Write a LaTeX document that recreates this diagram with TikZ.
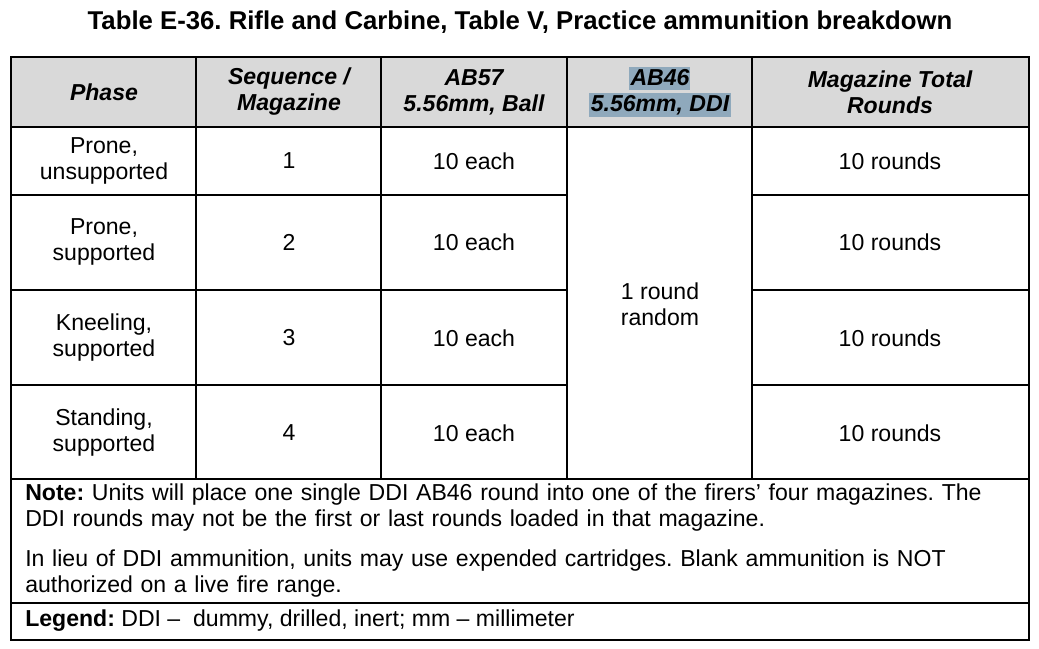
\documentclass[tikz,border=0pt]{standalone}
\usepackage{fontspec}
\setmainfont{Liberation Sans}
\frenchspacing
\definecolor{hdr}{HTML}{D9D9D9}
\definecolor{hl}{HTML}{8FA9BC}
\begin{document}
\begin{tikzpicture}[x=0.75pt,y=-0.75pt,
  cell/.style={align=center,font=\fontsize{17.3}{19.5}\selectfont,inner sep=0pt},
  hcell/.style={cell,font=\fontsize{17.3}{19.5}\selectfont\bfseries\itshape},
  grid/.style={line width=1.6pt}]
\useasboundingbox (0,0) rectangle (1039,649);
\node[font=\fontsize{19.3}{22}\selectfont\bfseries] (title) at (520,22) {Table E-36. Rifle and Carbine, Table V, Practice ammunition breakdown};
\fill[hdr] (11,57) rectangle (1029,127);
\fill[hl] (629,67) rectangle (690,90);
\fill[hl] (589,93) rectangle (731,117);
% grid
\draw[grid] (11,57) rectangle (1029,640);
\draw[grid] (11,127) -- (1029,127);
\foreach \y in {195,290,385} {\draw[grid] (11,\y) -- (567,\y); \draw[grid] (752,\y) -- (1029,\y);}
\draw[grid] (11,479) -- (1029,479);
\draw[grid] (11,603) -- (1029,603);
\foreach \x in {196,381,567,752} \draw[grid] (\x,57) -- (\x,479);
% header
\node[hcell] (h1) at (104,92) {Phase};
\node[hcell] (h2) at (289,92) {Sequence /\\Magazine};
\node[hcell] (h3) at (474,92) {AB57\\5.56mm, Ball};
\node[hcell] (h4) at (660,92) {AB46\\5.56mm, DDI};
\node[hcell] (h5) at (890,92) {Magazine Total\\Rounds};
% rows
\node[cell] (p1) at (104,161) {Prone,\\unsupported};
\node[cell] (p2) at (104,242) {Prone,\\supported};
\node[cell] (p3) at (104,338) {Kneeling,\\supported};
\node[cell] (p4) at (104,433) {Standing,\\supported};
\node[cell] (s1) at (289,161) {1};
\node[cell] (s2) at (289,242) {2};
\node[cell] (s3) at (289,338) {3};
\node[cell] (s4) at (289,433) {4};
\node[cell] (b1) at (474,161) {10 each};
\node[cell] (b2) at (474,242) {10 each};
\node[cell] (b3) at (474,338) {10 each};
\node[cell] (b4) at (474,433) {10 each};
\node[cell] (d) at (660,304) {1 round\\random};
\node[cell] (t1) at (890,161) {10 rounds};
\node[cell] (t2) at (890,242) {10 rounds};
\node[cell] (t3) at (890,338) {10 rounds};
\node[cell] (t4) at (890,433) {10 rounds};
% notes
\node[cell,align=left,anchor=north west,text width=1003*0.75pt] (n1) at (25,484) {\textbf{Note:} Units will place one single DDI AB46 round into one of the firers’ four magazines. The DDI rounds may not be the first or last rounds loaded in that magazine.};
\node[cell,align=left,anchor=north west,text width=930*0.75pt] (n2) at (25,550) {In lieu of DDI ammunition, units may use expended cartridges. Blank ammunition is NOT authorized on a live fire range.};
\node[cell,anchor=west] (lg) at (25,621) {\textbf{Legend:} DDI –\ \ dummy, drilled, inert; mm – millimeter};
\end{tikzpicture}
\end{document}
